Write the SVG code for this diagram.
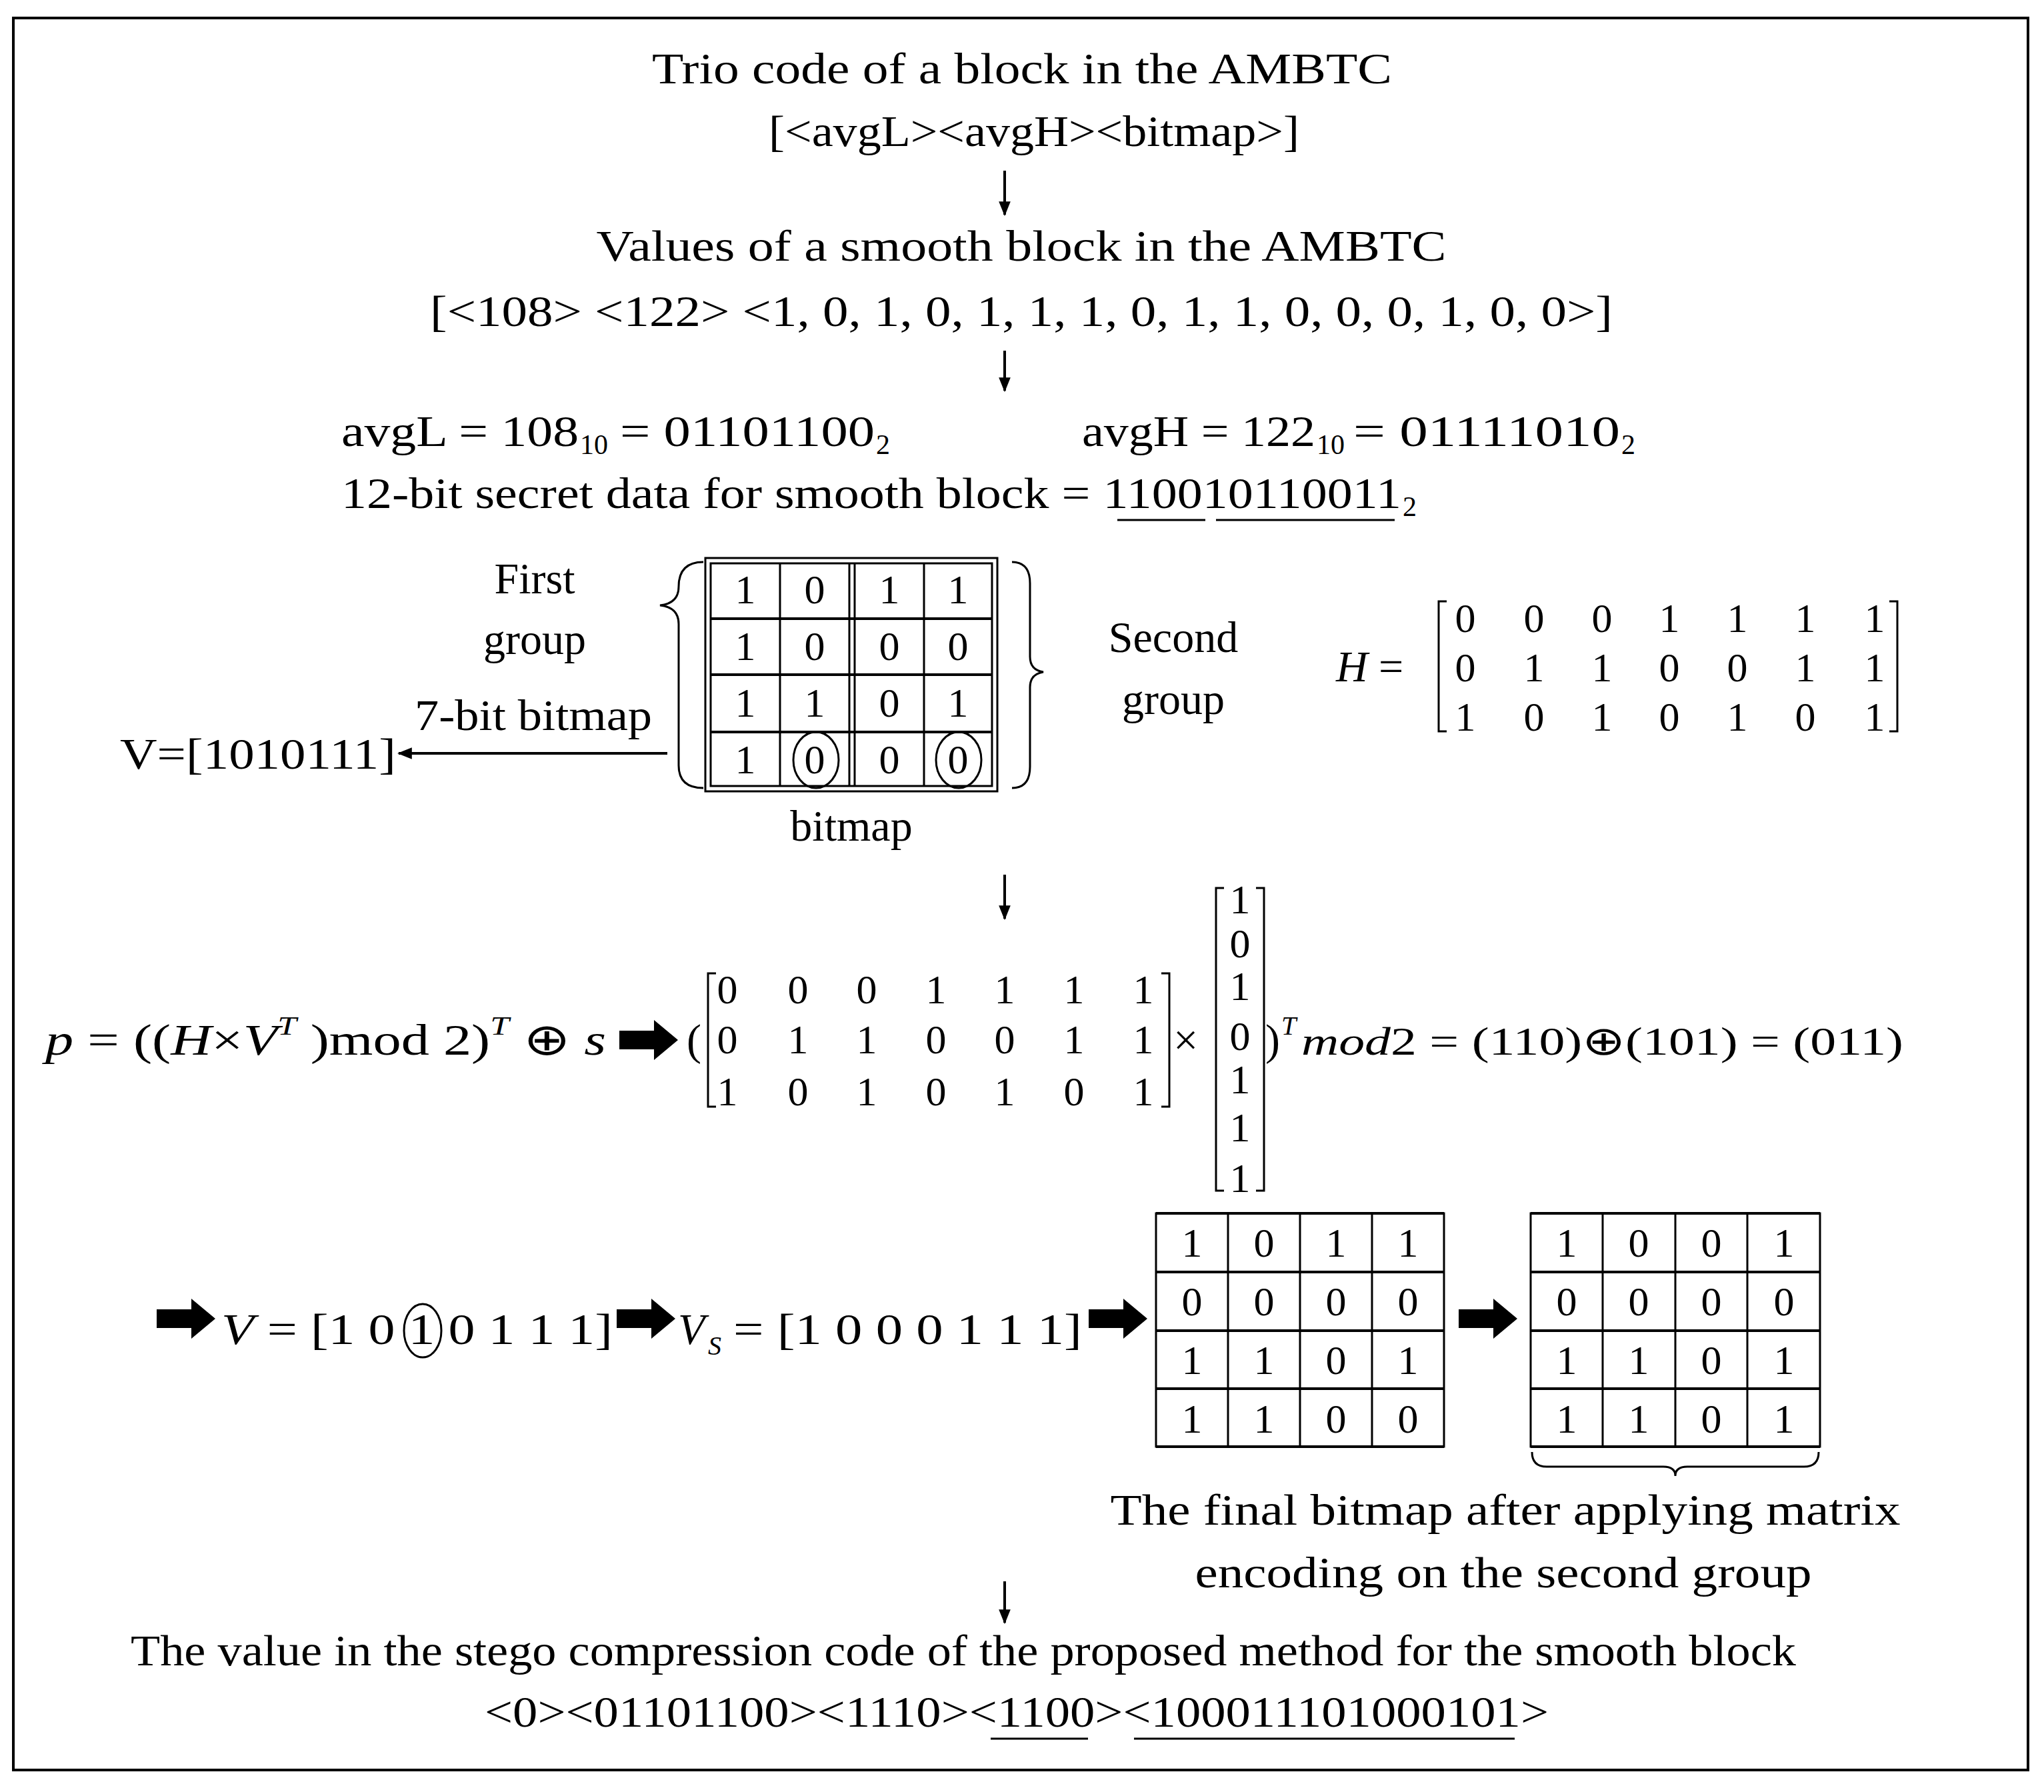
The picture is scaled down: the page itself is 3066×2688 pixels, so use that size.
<svg xmlns="http://www.w3.org/2000/svg" width="3066" height="2688" viewBox="0 0 3066 2688">
<style>
text{font-family:"Liberation Serif","Times New Roman",serif;fill:#000}
.t{font-size:66px}
.c{text-anchor:middle}
.s{font-size:42px}
.g{font-size:62px;text-anchor:middle}
.ln{stroke:#000;stroke-width:4;fill:none}
.thin{stroke:#000;stroke-width:3;fill:none}
.i{font-style:italic}
</style>
<defs>
<marker id="ah2" viewBox="0 0 10 10" refX="9" refY="5" markerWidth="22" markerHeight="22" markerUnits="userSpaceOnUse" orient="auto"><path d="M0,1 L10,5 L0,9 z"/></marker>
<path id="bigArrow" d="M0,-14 L52,-14 L52,-30 L88,0 L52,30 L52,14 L0,14 z"/>
</defs>
<rect x="20" y="27" width="3022" height="2628" fill="#fff" stroke="#000" stroke-width="4"/>

<g id="connectors">
<line x1="1507" y1="256" x2="1507" y2="322" class="ln" marker-end="url(#ah2)"/>
<line x1="1507" y1="526" x2="1507" y2="586" class="ln" marker-end="url(#ah2)"/>
<line x1="1507" y1="1312" x2="1507" y2="1378" class="ln" marker-end="url(#ah2)"/>
<line x1="1507" y1="2372" x2="1507" y2="2434" class="ln" marker-end="url(#ah2)"/>
<line x1="1001" y1="1130" x2="598" y2="1130" class="ln" marker-end="url(#ah2)"/>
<use href="#bigArrow" x="929" y="1560"/>
<use href="#bigArrow" x="235" y="1978"/>
<use href="#bigArrow" x="925" y="1978"/>
<use href="#bigArrow" x="1633" y="1978"/>
<use href="#bigArrow" x="2188" y="1978"/>
</g>

<g id="trio">
<text class="t c" x="1533" y="125" textLength="1110" lengthAdjust="spacingAndGlyphs">Trio code of a block in the AMBTC</text>
<text class="t c" x="1551" y="219" textLength="796" lengthAdjust="spacingAndGlyphs">[&lt;avgL&gt;&lt;avgH&gt;&lt;bitmap&gt;]</text>
</g>

<g id="values">
<text class="t c" x="1532" y="391" textLength="1275" lengthAdjust="spacingAndGlyphs">Values of a smooth block in the AMBTC</text>
<text class="t c" x="1532" y="489" textLength="1774" lengthAdjust="spacingAndGlyphs">[&lt;108&gt; &lt;122&gt; &lt;1, 0, 1, 0, 1, 1, 1, 0, 1, 1, 0, 0, 0, 1, 0, 0&gt;]</text>
</g>

<g id="avg">
<text class="t" x="512" y="669" textLength="356" lengthAdjust="spacingAndGlyphs">avgL = 108</text>
<text class="s" x="870" y="681">10</text>
<text class="t" x="930" y="669" textLength="382" lengthAdjust="spacingAndGlyphs">= 01101100</text>
<text class="s" x="1314" y="681">2</text>
<text class="t" x="1623" y="669" textLength="350" lengthAdjust="spacingAndGlyphs">avgH = 122</text>
<text class="s" x="1975" y="681">10</text>
<text class="t" x="2030" y="669" textLength="400" lengthAdjust="spacingAndGlyphs">= 01111010</text>
<text class="s" x="2432" y="681">2</text>
<text class="t" x="512" y="762" textLength="1590" lengthAdjust="spacingAndGlyphs">12-bit secret data for smooth block = 110010110011</text>
<text class="s" x="2104" y="774">2</text>
<line x1="1676" y1="780" x2="1808" y2="780" class="thin"/>
<line x1="1824" y1="780" x2="2092" y2="780" class="thin"/>
</g>

<g id="bitmap">
<rect x="1058" y="837" width="438" height="350" class="thin"/>
<rect x="1066" y="845" width="422" height="334" class="thin"/>
<line x1="1170" y1="845" x2="1170" y2="1179" class="thin"/>
<line x1="1274" y1="845" x2="1274" y2="1179" class="thin"/>
<line x1="1282" y1="845" x2="1282" y2="1179" class="thin"/>
<line x1="1386" y1="845" x2="1386" y2="1179" class="thin"/>
<line x1="1066" y1="928" x2="1488" y2="928" class="ln"/>
<line x1="1066" y1="1012" x2="1488" y2="1012" class="ln"/>
<line x1="1066" y1="1098" x2="1488" y2="1098" class="ln"/>
<g class="g">
<text x="1118" y="905">1</text><text x="1222" y="905">0</text><text x="1334" y="905">1</text><text x="1437" y="905">1</text>
<text x="1118" y="990">1</text><text x="1222" y="990">0</text><text x="1334" y="990">0</text><text x="1437" y="990">0</text>
<text x="1118" y="1075">1</text><text x="1222" y="1075">1</text><text x="1334" y="1075">0</text><text x="1437" y="1075">1</text>
<text x="1118" y="1160">1</text><text x="1222" y="1160">0</text><text x="1334" y="1160">0</text><text x="1437" y="1160">0</text>
</g>
<ellipse cx="1224" cy="1140" rx="34" ry="42" class="thin"/>
<ellipse cx="1438" cy="1140" rx="34" ry="42" class="thin"/>
<path d="M1055,843 Q1018,843 1018,880 Q1018,905 990,908 Q1018,911 1018,936 L1018,1148 Q1018,1182 1055,1182" class="thin"/>
<path d="M1518,843 Q1545,843 1545,875 L1545,985 Q1545,1005 1565,1008 Q1545,1011 1545,1031 L1545,1150 Q1545,1182 1518,1182" class="thin"/>
<text class="t c" x="1277" y="1261">bitmap</text>
</g>

<g id="firstgroup">
<text class="t c" x="802" y="890">First</text>
<text class="t c" x="802" y="981">group</text>
<text class="t" x="622" y="1095" textLength="356" lengthAdjust="spacingAndGlyphs">7-bit bitmap</text>
<text class="t" x="180" y="1153" textLength="414" lengthAdjust="spacingAndGlyphs">V=[1010111]</text>
</g>

<g id="secondgroup">
<text class="t c" x="1760" y="978">Second</text>
<text class="t c" x="1760" y="1071">group</text>
</g>

<g id="Hmatrix">
<text class="t i" x="2004" y="1022">H</text><text class="t" x="2068" y="1022">=</text>
<path d="M2170,902 L2158,902 L2158,1097 L2170,1097 M2834,902 L2846,902 L2846,1097 L2834,1097" class="thin"/>
<g class="g">
<text x="2198" y="948">0</text><text x="2301" y="948">0</text><text x="2403" y="948">0</text><text x="2504" y="948">1</text><text x="2606" y="948">1</text><text x="2708" y="948">1</text><text x="2812" y="948">1</text>
<text x="2198" y="1022">0</text><text x="2301" y="1022">1</text><text x="2403" y="1022">1</text><text x="2504" y="1022">0</text><text x="2606" y="1022">0</text><text x="2708" y="1022">1</text><text x="2812" y="1022">1</text>
<text x="2198" y="1096">1</text><text x="2301" y="1096">0</text><text x="2403" y="1096">1</text><text x="2504" y="1096">0</text><text x="2606" y="1096">1</text><text x="2708" y="1096">0</text><text x="2812" y="1096">1</text>
</g>
</g>

<g id="equation">
<text class="t" x="68" y="1582" font-size="72" textLength="841" lengthAdjust="spacingAndGlyphs"><tspan class="i">p</tspan> = ((<tspan class="i">H</tspan>×<tspan class="i">V</tspan><tspan font-size="40" dy="-30" class="i">T</tspan><tspan dy="30"> )mod 2)</tspan><tspan font-size="40" dy="-30" class="i">T</tspan><tspan dy="30"> ⊕ </tspan><tspan class="i">s</tspan></text>
<text class="t" x="1030" y="1582">(</text>
<path d="M1074,1460 L1062,1460 L1062,1660 L1074,1660 M1742,1460 L1754,1460 L1754,1660 L1742,1660" class="thin"/>
<g class="g">
<text x="1091" y="1505">0</text><text x="1197" y="1505">0</text><text x="1300" y="1505">0</text><text x="1404" y="1505">1</text><text x="1507" y="1505">1</text><text x="1611" y="1505">1</text><text x="1715" y="1505">1</text>
<text x="1091" y="1580">0</text><text x="1197" y="1580">1</text><text x="1300" y="1580">1</text><text x="1404" y="1580">0</text><text x="1507" y="1580">0</text><text x="1611" y="1580">1</text><text x="1715" y="1580">1</text>
<text x="1091" y="1658">1</text><text x="1197" y="1658">0</text><text x="1300" y="1658">1</text><text x="1404" y="1658">0</text><text x="1507" y="1658">1</text><text x="1611" y="1658">0</text><text x="1715" y="1658">1</text>
</g>
<text class="t" x="1760" y="1582" font-size="72">×</text>
<path d="M1836,1332 L1824,1332 L1824,1786 L1836,1786 M1884,1332 L1896,1332 L1896,1786 L1884,1786" class="thin"/>
<g class="g">
<text x="1860" y="1370">1</text><text x="1860" y="1436">0</text><text x="1860" y="1500">1</text><text x="1860" y="1575">0</text><text x="1860" y="1640">1</text><text x="1860" y="1712">1</text><text x="1860" y="1788">1</text>
</g>
<text class="t" x="1898" y="1582">)</text>
<text class="i" x="1922" y="1552" font-size="40">T</text>
<text x="1952" y="1582" font-family="DejaVu Serif" font-size="60" textLength="903" lengthAdjust="spacingAndGlyphs"><tspan class="i">mod</tspan>2 = (110)⊕(101) = (011)</text>
</g>

<g id="vrow">
<text class="t" x="332" y="2016" font-size="72" textLength="587" lengthAdjust="spacingAndGlyphs"><tspan class="i">V</tspan> = [1 0 1 0 1 1 1]</text>
<ellipse cx="634" cy="1996" rx="28" ry="40" class="thin"/>
<text class="t i" x="1017" y="2016" font-size="72">V</text>
<text class="i" x="1062" y="2032" font-size="40">S</text>
<text class="t" x="1100" y="2016" font-size="72" textLength="523" lengthAdjust="spacingAndGlyphs">= [1 0 0 0 1 1 1]</text>
</g>

<g id="grid1">
<rect x="1734" y="1820" width="432" height="350" class="thin"/>
<path d="M1842,1820 V2170 M1950,1820 V2170 M2058,1820 V2170" class="thin"/>
<path d="M1734,1908 H2166 M1734,1996 H2166 M1734,2083 H2166 M1734,1820 H2166 M1734,2170 H2166" class="ln"/>
<g class="g">
<text x="1788" y="1885">1</text><text x="1896" y="1885">0</text><text x="2004" y="1885">1</text><text x="2112" y="1885">1</text>
<text x="1788" y="1973">0</text><text x="1896" y="1973">0</text><text x="2004" y="1973">0</text><text x="2112" y="1973">0</text>
<text x="1788" y="2061">1</text><text x="1896" y="2061">1</text><text x="2004" y="2061">0</text><text x="2112" y="2061">1</text>
<text x="1788" y="2149">1</text><text x="1896" y="2149">1</text><text x="2004" y="2149">0</text><text x="2112" y="2149">0</text>
</g>
</g>

<g id="grid2">
<rect x="2296" y="1820" width="434" height="350" class="thin"/>
<path d="M2404,1820 V2170 M2513,1820 V2170 M2621,1820 V2170" class="thin"/>
<path d="M2296,1908 H2730 M2296,1996 H2730 M2296,2083 H2730 M2296,1820 H2730 M2296,2170 H2730" class="ln"/>
<g class="g">
<text x="2350" y="1885">1</text><text x="2458" y="1885">0</text><text x="2567" y="1885">0</text><text x="2676" y="1885">1</text>
<text x="2350" y="1973">0</text><text x="2458" y="1973">0</text><text x="2567" y="1973">0</text><text x="2676" y="1973">0</text>
<text x="2350" y="2061">1</text><text x="2458" y="2061">1</text><text x="2567" y="2061">0</text><text x="2676" y="2061">1</text>
<text x="2350" y="2149">1</text><text x="2458" y="2149">1</text><text x="2567" y="2149">0</text><text x="2676" y="2149">1</text>
</g>
<path d="M2298,2178 Q2298,2200 2320,2200 L2495,2200 Q2513,2200 2513,2214 Q2513,2200 2531,2200 L2706,2200 Q2728,2200 2728,2178" class="thin"/>
<text class="t c" x="2258" y="2287" textLength="1185" lengthAdjust="spacingAndGlyphs">The final bitmap after applying matrix</text>
<text class="t c" x="2255" y="2381" textLength="925" lengthAdjust="spacingAndGlyphs">encoding on the second group</text>
</g>

<g id="result">
<text class="t c" x="1445" y="2498" textLength="2498" lengthAdjust="spacingAndGlyphs">The value in the stego compression code of the proposed method for the smooth block</text>
<text class="t c" x="1525" y="2590" textLength="1596" lengthAdjust="spacingAndGlyphs">&lt;0&gt;&lt;01101100&gt;&lt;1110&gt;&lt;1100&gt;&lt;100011101000101&gt;</text>
<line x1="1486" y1="2608" x2="1632" y2="2608" class="thin"/>
<line x1="1701" y1="2608" x2="2272" y2="2608" class="thin"/>
</g>
</svg>
